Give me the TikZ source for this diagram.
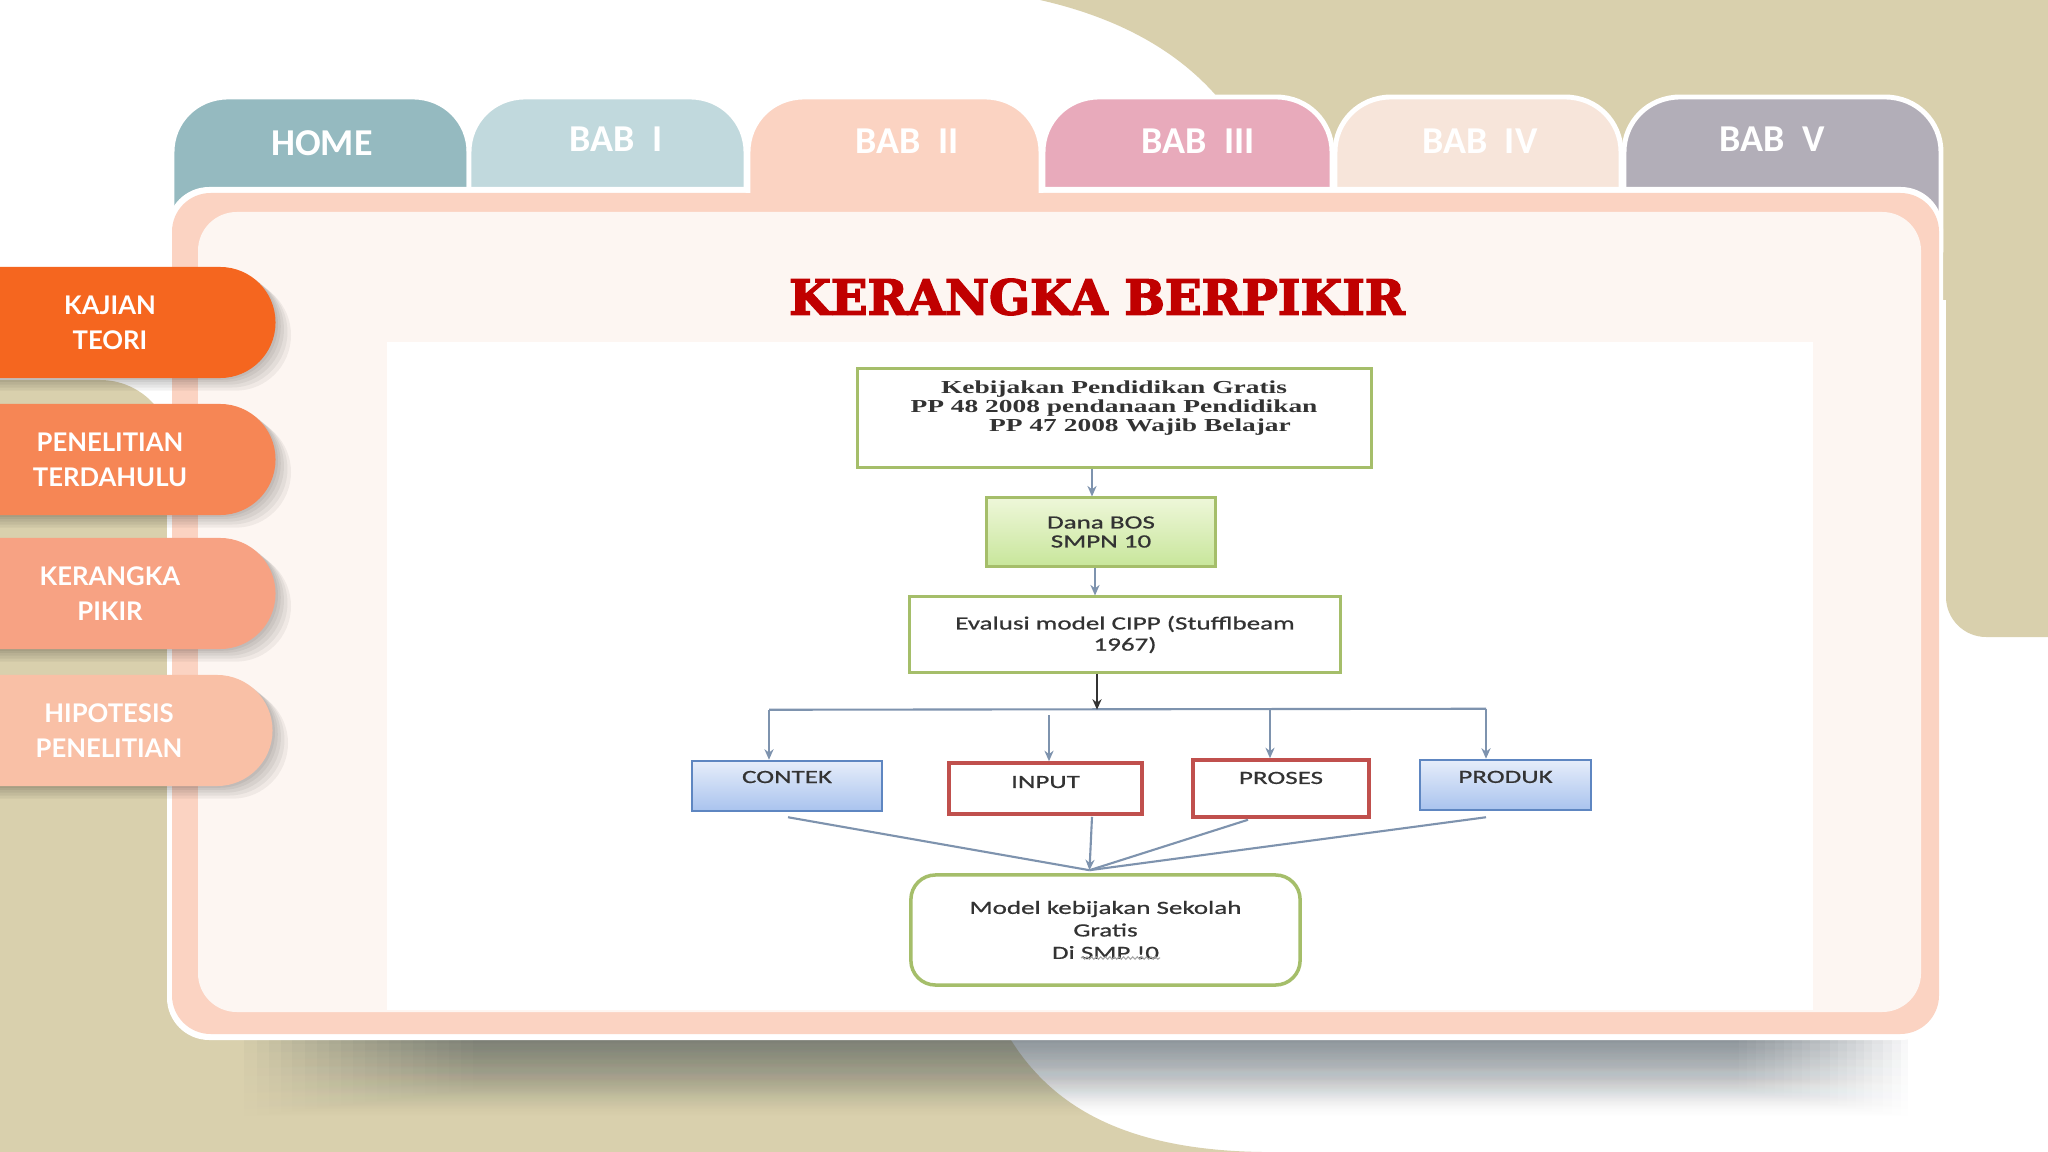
\documentclass[tikz,border=0pt]{standalone}
\usepackage{fontspec}
\usetikzlibrary{arrows.meta,calc,shapes.misc,decorations.pathmorphing,fadings}
\setmainfont{Lato}
\newfontfamily\latofont{Lato}
\newfontfamily\tabfont{Carlito}
\newfontfamily\flowsans[FakeStretch=1.45, FakeBold=0.8]{Carlito}
\newfontfamily\flowserif[FakeStretch=1.5]{Liberation Serif}
\newfontfamily\titlefont[UprightFont={* Bold}, UprightFeatures={FakeBold=3}]{DejaVu Serif}
\definecolor{beige}{HTML}{D9D0AD}
\definecolor{tabhome}{HTML}{95BAC0}
\definecolor{tabi}{HTML}{C1D9DD}
\definecolor{tabii}{HTML}{FBD3C2}
\definecolor{tabiii}{HTML}{E8AABB}
\definecolor{tabiv}{HTML}{F7E5DA}
\definecolor{tabv}{HTML}{B2AEB8}
\definecolor{cream}{HTML}{FDF6F2}
\definecolor{pillA}{HTML}{F5661F}
\definecolor{pillB}{HTML}{F68655}
\definecolor{pillC}{HTML}{F7A283}
\definecolor{pillD}{HTML}{F9C0A6}
\definecolor{titlered}{HTML}{C00000}
\definecolor{fgreen}{HTML}{A5BE6A}
\definecolor{fblue}{HTML}{5E86C1}
\definecolor{fred}{HTML}{C0504D}
\definecolor{farrow}{HTML}{7E93AE}
\definecolor{flowtxt}{HTML}{333333}
\definecolor{shadowc}{HTML}{3E4C55}
\definecolor{greentop}{HTML}{EEF7D9}
\definecolor{greenbot}{HTML}{C8E69B}
\definecolor{bluetop}{HTML}{E6EDFA}
\definecolor{bluebot}{HTML}{A9C3EE}

\tikzfading[name=shfade, top color=transparent!25, bottom color=transparent!100]

\newcommand\tabfill[3]{\path[#3] (#1,250) -- (#1,152) .. controls (#1,122) and ({#1+24},97) .. ({#1+56},97) -- ({#2-56},97) .. controls ({#2-24},97) and (#2,122) .. (#2,152) -- (#2,250) -- cycle;}

\tikzset{
  tablabel/.style={text=white, font=\tabfont\bfseries\fontsize{10.8}{12}\selectfont, inner sep=0pt},
  pillshadow/.style={
    preaction={fill=black, opacity=0.05, transform canvas={xshift=4.4pt, yshift=-3.6pt}},
    preaction={fill=black, opacity=0.05, transform canvas={xshift=3.4pt, yshift=-2.7pt}},
    preaction={fill=black, opacity=0.05, transform canvas={xshift=2.4pt, yshift=-1.9pt}},
    preaction={fill=black, opacity=0.05, transform canvas={xshift=1.5pt, yshift=-1.1pt}},
    preaction={fill=black, opacity=0.05, transform canvas={xshift=0.7pt, yshift=-0.5pt}}},
  pill/.style={rounded rectangle, rounded rectangle left arc=none, minimum width=3.24cm,
    minimum height=1.11cm, inner sep=0pt, align=center, text=white, pillshadow,
    font=\latofont\bfseries\fontsize{7.3}{9.9}\selectfont},
  fbox/.style={draw=fgreen, line width=0.85pt, fill=white, inner sep=0pt, text=flowtxt},
  bluebox/.style={draw=fblue, line width=0.7pt, top color=bluetop, bottom color=bluebot,
    inner sep=0pt, text=flowtxt, text height=3.4pt, font=\flowsans\fontsize{5.3}{5.5}\selectfont},
  redbox/.style={draw=fred, line width=1pt, fill=white, inner sep=0pt, text=flowtxt,
    text height=3.4pt, font=\flowsans\fontsize{5.3}{5.5}\selectfont},
  fline/.style={farrow, line width=0.6pt},
  farr/.style={farrow, line width=0.6pt, -{Stealth[length=3pt, width=2.6pt]}},
  darr/.style={black!80, line width=0.7pt, -{Stealth[length=3pt, width=2.6pt]}}
}

\begin{document}
\begin{tikzpicture}[x=0.01cm, y=-0.01cm]
\useasboundingbox (0,0) rectangle (2048,1152);
\fill[white] (0,0) rectangle (2048,1152);

% background beige shapes
\fill[beige] (1040,0) .. controls (1150,25) and (1225,80) .. (1262,170) -- (1262,300) -- (1946,300)
  -- (1946,597) .. controls (1946,619) and (1964,637) .. (1986,637) -- (2048,637) -- (2048,0) -- cycle;
\fill[beige] (0,380) -- (100,380) .. controls (140,380) and (172,412) .. (172,452) -- (172,1000)
  -- (1000,1000) -- (1005,1030) .. controls (1050,1110) and (1130,1150) .. (1262,1152) -- (0,1152) -- cycle;

% card shadow
\foreach \i in {0,...,19}{
  \fill[shadowc, path fading=shfade, fill opacity=0.055] ({245+\i*12},1036) rectangle ({1910-\i*9},{1120-\i*1.5});
}

% tabs (inactive)
\tabfill{172}{469}{fill=tabhome, draw=white, line width=1.4pt}
\tabfill{469}{746}{fill=tabi, draw=white, line width=1.4pt}
\tabfill{1043}{1332}{fill=tabiii, draw=white, line width=1.4pt}
\tabfill{1335}{1621}{fill=tabiv, draw=white, line width=1.4pt}
\tabfill{1624}{1941}{fill=tabv, draw=white, line width=1.4pt}

% card
\fill[white, rounded corners=12pt] (167,187) rectangle (1943,1040);
\fill[tabii, rounded corners=11pt] (172,193) rectangle (1939,1034);
% active tab
\tabfill{748}{1041}{fill=tabii}
\draw[white, line width=1.4pt] (748,193) -- (748,152) .. controls (748,122) and (772,97) .. (804,97)
  -- (985,97) .. controls (1017,97) and (1041,122) .. (1041,152) -- (1041,193);
\fill[cream, rounded corners=11pt] (198,212) rectangle (1921,1012);
\fill[white] (387,342) rectangle (1813,1010);

% tab labels
\node[tablabel] (tHome) at (322,143) {HOME};
\node[tablabel] (tBabI) at (616,139) {BAB~~I};
\node[tablabel] (tBabII) at (907,141) {BAB~~II};
\node[tablabel] (tBabIII) at (1198,141) {BAB~~III};
\node[tablabel] (tBabIV) at (1480,141) {BAB~~IV};
\node[tablabel] (tBabV) at (1772,139) {BAB~~V};

% title
\node[text=titlered, inner sep=0pt, font=\titlefont\fontsize{13.7}{16}\selectfont] (title) at (1097,297) {KERANGKA BERPIKIR};

% flowchart
\node[fbox, minimum width=5.13cm, minimum height=0.98cm] (b1) at (1114.5,418) {};
\node[anchor=north, align=center, inner sep=0pt, text=flowtxt,
  font=\flowserif\bfseries\fontsize{5.2}{5.4}\selectfont] (b1t) at (1114,380)
  {Kebijakan Pendidikan Gratis\\PP 48 2008 pendanaan Pendidikan\\\hspace*{14.8pt}PP 47 2008 Wajib Belajar};
\node[fbox, top color=greentop, bottom color=greenbot, minimum width=2.28cm, minimum height=0.68cm,
  align=center, font=\flowsans\fontsize{5.3}{5.4}\selectfont] (b2) at (1101,532) {Dana BOS\\SMPN 10};
\node[fbox, minimum width=4.3cm, minimum height=0.75cm, align=center,
  font=\flowsans\fontsize{5.3}{6}\selectfont] (b3) at (1125,634.5) {Evalusi model CIPP (Stufflbeam\\1967)};
\node[bluebox, minimum width=1.9cm, minimum height=0.5cm, text depth=5.1pt] (c1) at (787,786) {CONTEK};
\node[redbox, minimum width=1.93cm, minimum height=0.51cm, text depth=3.7pt] (c2) at (1045.5,788.5) {INPUT};
\node[redbox, minimum width=1.76cm, minimum height=0.57cm, text depth=6pt] (c3) at (1281,788.5) {PROSES};
\node[bluebox, minimum width=1.71cm, minimum height=0.5cm, text depth=4.6pt] (c4) at (1505.5,785) {PRODUK};
\node[fbox, rounded corners=7pt, line width=1pt, minimum width=3.89cm, minimum height=1.10cm, align=center,
  font=\flowsans\fontsize{5.3}{6.4}\selectfont] (fin) at (1105.5,930) {Model kebijakan Sekolah\\Gratis\\Di SMP !0};
\draw[gray!70, line width=0.3pt, decorate, decoration={snake, amplitude=0.35pt, segment length=1.3pt}]
  ($(fin.center)+(-24.5,28)$) -- ($(fin.center)+(54.5,28)$);

% connectors
\coordinate (k1) at ($(b1.south)+(-22.5,0)$);
\draw[farr] (k1) -- (k1 |- b2.north);
\coordinate (k2) at ($(b2.south)+(-6,0)$);
\draw[farr] (k2) -- (k2 |- b3.north);
\coordinate (busL) at ($(c1.north)+(-18,-50)$);
\coordinate (busR) at ($(c4.north)+(-19.5,-50)$);
\coordinate (k3) at ($(b3.south)+(-28,0)$);
\draw[fline] (busL) -- (busR);
\draw[darr] (k3) -- (k3 |- busL);
\draw[farr] (busL) -- (busL |- c1.north);
\coordinate (bus2) at ($(c2.north)+(3.5,-46)$);
\draw[farr] (bus2) -- (bus2 |- c2.north);
\coordinate (bus3) at ($(c3.north)+(-11,-49)$);
\draw[farr] (bus3) -- (bus3 |- c3.north);
\draw[farr] (busR) -- (busR |- c4.north);
\coordinate (conv) at ($(fin.north)+(-16,-3)$);
\draw[fline] ($(c1.south)+(1,5)$) -- (conv);
\draw[farr] ($(c2.south)+(46.5,1)$) -- (conv);
\draw[fline] ($(c3.south)+(-33,1)$) -- (conv);
\draw[fline] ($(c4.south)+(-19.5,6)$) -- (conv);

% side pills
\node[pill, fill=pillA] (p1) at (110,322.5) {KAJIAN\\TEORI};
\node[pill, fill=pillB] (p2) at (110,459.5) {PENELITIAN\\TERDAHULU};
\node[pill, fill=pillC] (p3) at (110,593.5) {KERANGKA\\PIKIR};
\node[pill, fill=pillD, minimum width=3.2cm] (p4) at (109,730.5) {HIPOTESIS\\PENELITIAN};
\end{tikzpicture}
\end{document}
